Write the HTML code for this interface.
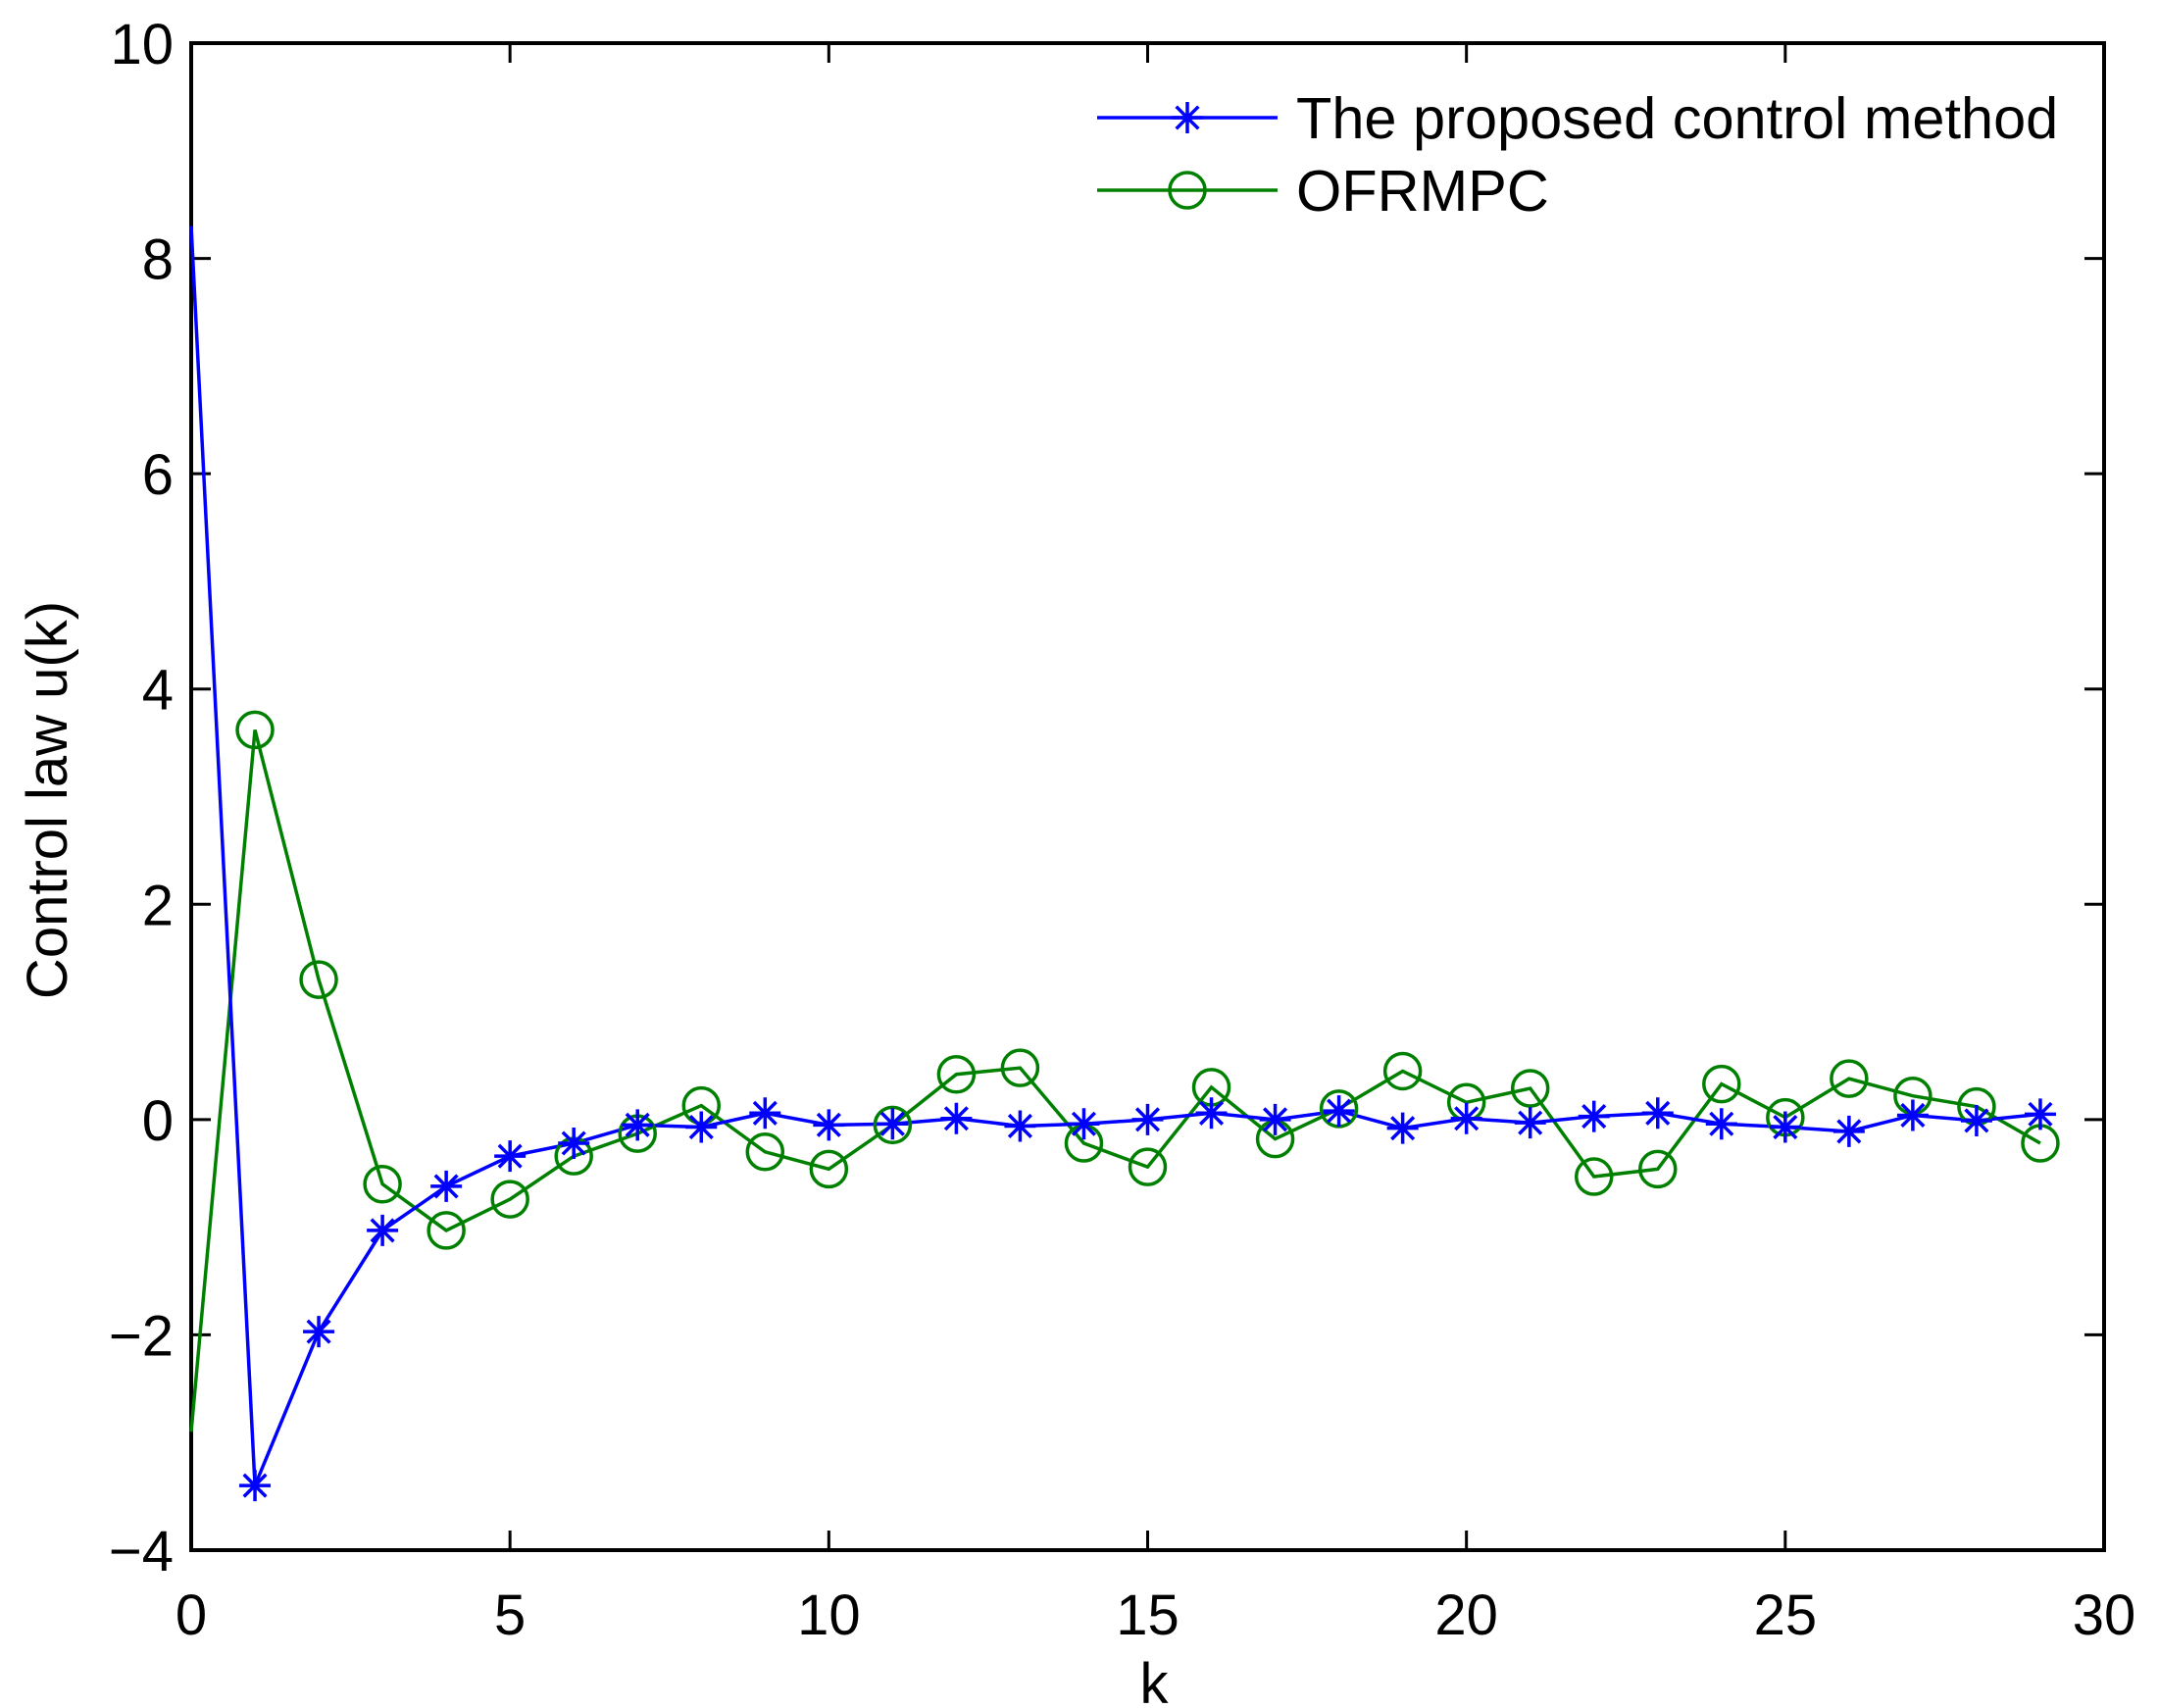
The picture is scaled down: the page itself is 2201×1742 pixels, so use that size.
<!DOCTYPE html>
<html><head><meta charset="utf-8"><style>html,body{margin:0;padding:0;background:#fff}svg{display:block}</style></head>
<body>
<svg id="s" xmlns="http://www.w3.org/2000/svg" width="2201" height="1742" viewBox="0 0 2201 1742" font-family="Liberation Sans, Arial, sans-serif">
<rect width="2201" height="1742" fill="#fff"/>
</svg>
<script>
const s=document.getElementById('s');
const L=195,R=2146,T=44,B=1581;
const X=k=>L+(R-L)*k/30, Y=v=>B-(B-T)*(v+4)/14;
let h='';
h+=`<rect x="${L}" y="${T}" width="${R-L}" height="${B-T}" fill="none" stroke="#000" stroke-width="4"/>`;
for(let k=0;k<=30;k+=5){const x=X(k);
 if(k>0&&k<30){h+=`<line x1="${x}" y1="${B}" x2="${x}" y2="${B-20}" stroke="#000" stroke-width="3"/><line x1="${x}" y1="${T}" x2="${x}" y2="${T+20}" stroke="#000" stroke-width="3"/>`;}
 h+=`<text x="${x}" y="1667" font-size="58" text-anchor="middle">${k}</text>`;}
for(let v=-4;v<=10;v+=2){const y=Y(v);
 if(v>-4&&v<10){h+=`<line x1="${L}" y1="${y}" x2="${L+20}" y2="${y}" stroke="#000" stroke-width="3"/><line x1="${R}" y1="${y}" x2="${R-20}" y2="${y}" stroke="#000" stroke-width="3"/>`;}
 h+=`<text x="177" y="${y+21}" font-size="58" text-anchor="end">${v<0?'\u2212'+(-v):v}</text>`;}
h+=`<text x="1177" y="1737" font-size="58" text-anchor="middle">k</text>`;
h+=`<text transform="translate(68,816) rotate(-90)" font-size="58" text-anchor="middle">Control law u(k)</text>`;
const b=[8.3,-3.4,-1.97,-1.03,-0.62,-0.34,-0.22,-0.05,-0.07,0.06,-0.05,-0.04,0.01,-0.06,-0.04,0.0,0.06,0.0,0.08,-0.08,0.01,-0.03,0.03,0.06,-0.04,-0.07,-0.11,0.04,-0.01,0.05];
const g=[-2.9,3.62,1.3,-0.6,-1.03,-0.74,-0.34,-0.13,0.13,-0.3,-0.46,-0.05,0.42,0.48,-0.22,-0.44,0.3,-0.18,0.1,0.45,0.16,0.29,-0.53,-0.46,0.33,0.02,0.38,0.22,0.12,-0.22];
function star(x,y,c){const r=16,d=r*0.707;return `<path d="M${x-r} ${y}H${x+r}M${x} ${y-r}V${y+r}M${x-d} ${y-d}L${x+d} ${y+d}M${x-d} ${y+d}L${x+d} ${y-d}" stroke="${c}" stroke-width="3.5"/>`;}
function circ(x,y,c){return `<circle cx="${x}" cy="${y}" r="18" fill="none" stroke="${c}" stroke-width="3.5"/>`;}
const bl='#0000ff',gr='#008000';
h+=`<polyline fill="none" stroke="${gr}" stroke-width="3.5" points="${g.map((v,i)=>X(i)+','+Y(v)).join(' ')}"/>`;
h+=`<polyline fill="none" stroke="${bl}" stroke-width="3.5" points="${b.map((v,i)=>X(i)+','+Y(v)).join(' ')}"/>`;
g.forEach((v,i)=>{if(i>0)h+=circ(X(i),Y(v),gr);});
b.forEach((v,i)=>{if(i>0)h+=star(X(i),Y(v),bl);});
h+=`<line x1="1119" y1="120" x2="1303" y2="120" stroke="${bl}" stroke-width="3.5"/>`+star(1211,120,bl);
h+=`<line x1="1119" y1="194" x2="1303" y2="194" stroke="${gr}" stroke-width="3.5"/>`+circ(1211,194,gr);
h+=`<text x="1322" y="141" font-size="59.5">The proposed control method</text>`;
h+=`<text x="1322" y="215" font-size="59.5">OFRMPC</text>`;
s.insertAdjacentHTML('beforeend',h);
</script>
</body></html>
